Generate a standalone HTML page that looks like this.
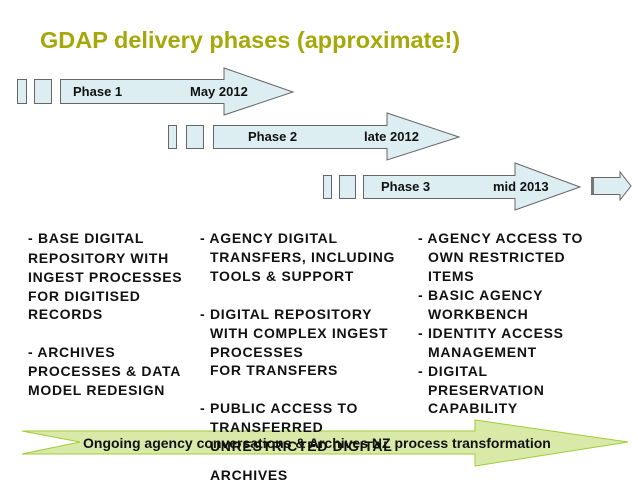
<!DOCTYPE html>
<html><head><meta charset="utf-8"><style>
body{margin:0;width:638px;height:478px;background:#fff;position:relative;overflow:hidden;font-family:"Liberation Sans",sans-serif}
.t{position:absolute;left:40px;top:27px;font-size:23.5px;font-weight:bold;color:#a6a80a;white-space:nowrap}
.l{position:absolute;font-size:14px;font-weight:bold;text-transform:uppercase;color:#111;white-space:nowrap;line-height:14px;letter-spacing:0.7px}
.p{position:absolute;font-size:13px;font-weight:bold;color:#111;white-space:nowrap;line-height:14px}
svg{position:absolute;left:0;top:0}
</style></head><body>
<svg width="638" height="478">
<g fill="#ddeef3" stroke="#666" stroke-width="1">
<rect x="17.5" y="79.5" width="9" height="24"/><rect x="34.5" y="79.5" width="17" height="24"/>
<polygon points="60.5,79.5 224,79.5 224,68 293,92 224,115 224,103.5 60.5,103.5"/>
<rect x="168.5" y="125.5" width="8" height="23"/><rect x="186.5" y="125.5" width="17" height="23"/>
<polygon points="213.5,125.5 387,125.5 387,113 459,137 387,160 387,148.5 213.5,148.5"/>
<rect x="323.5" y="175.5" width="8" height="23"/><rect x="339.5" y="175.5" width="16" height="23"/>
<polygon points="363.5,175.5 515,175.5 515,163 580,187 515,210 515,198.5 363.5,198.5"/>
<polygon points="591.5,177.5 620,177.5 620,172 631,186 620,200 620,194.5 591.5,194.5"/>
</g>
<rect x="591" y="178" width="3" height="16" fill="#777"/>
<polygon points="22,431 475,431 475,420 628,442 475,466 475,454 22,454 80,442" fill="#d9eaa8" stroke="#9fcc3a" stroke-width="1"/>
</svg>
<div class="t">GDAP delivery phases (approximate!)</div>
<div class="p" style="left:73px;top:85px">Phase 1</div>
<div class="p" style="left:190px;top:85px">May 2012</div>
<div class="p" style="left:248px;top:130px">Phase 2</div>
<div class="p" style="left:364px;top:130px">late 2012</div>
<div class="p" style="left:381px;top:180px">Phase 3</div>
<div class="p" style="left:493px;top:180px">mid 2013</div>

<div class="l" style="left:28px;top:231px">- Base digital</div>
<div class="l" style="left:28px;top:251px">repository with</div>
<div class="l" style="left:28px;top:270px">ingest processes</div>
<div class="l" style="left:28px;top:289px">for digitised</div>
<div class="l" style="left:28px;top:307px">records</div>
<div class="l" style="left:28px;top:345px">- Archives</div>
<div class="l" style="left:28px;top:364px">processes &amp; data</div>
<div class="l" style="left:28px;top:383px">model redesign</div>

<div class="l" style="left:200px;top:231px">- Agency digital</div>
<div class="l" style="left:210px;top:250px">transfers, including</div>
<div class="l" style="left:210px;top:269px">tools &amp; support</div>
<div class="l" style="left:200px;top:307px">- Digital repository</div>
<div class="l" style="left:210px;top:326px">with complex ingest</div>
<div class="l" style="left:210px;top:345px">processes</div>
<div class="l" style="left:210px;top:363px">for transfers</div>
<div class="l" style="left:200px;top:401px">- Public access to</div>
<div class="l" style="left:210px;top:420px">transferred</div>
<div class="l" style="left:210px;top:439px">unrestricted digital</div>
<div class="l" style="left:210px;top:468px">archives</div>

<div class="l" style="left:418px;top:231px">- Agency access to</div>
<div class="l" style="left:428px;top:250px">own restricted</div>
<div class="l" style="left:428px;top:269px">items</div>
<div class="l" style="left:418px;top:288px">- Basic agency</div>
<div class="l" style="left:428px;top:307px">workbench</div>
<div class="l" style="left:418px;top:326px">- Identity access</div>
<div class="l" style="left:428px;top:345px">management</div>
<div class="l" style="left:418px;top:364px">- Digital</div>
<div class="l" style="left:428px;top:383px">preservation</div>
<div class="l" style="left:428px;top:401px">capability</div>

<div class="p" style="left:83px;top:436px;font-size:14px">Ongoing agency conversations &amp; Archives NZ process transformation</div>
</body></html>
